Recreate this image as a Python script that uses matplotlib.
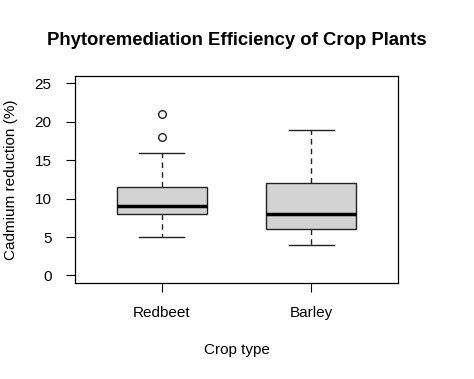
import matplotlib.pyplot as plt

crops = ['Redbeet', 'Barley']
whisker_low = [5, 4]
q1 = [8, 6]
medians = [9, 8]
q3 = [11.5, 12]
whisker_high = [16, 19]
outliers = [[18, 21], []]

plt.rcParams['font.family'] = ['Liberation Sans', 'DejaVu Sans']

stats = []
for i, name in enumerate(crops):
    stats.append({'label': name, 'whislo': whisker_low[i], 'q1': q1[i], 'med': medians[i],
                  'q3': q3[i], 'whishi': whisker_high[i], 'fliers': outliers[i]})

fig = plt.figure(figsize=(4.74, 3.79), dpi=100)
ax = fig.add_axes([0.158, 0.253, 0.682, 0.547])

ax.bxp(stats, positions=[1, 2], widths=0.6, patch_artist=True,
       boxprops=dict(facecolor='#D3D3D3', edgecolor='#222222', linewidth=1),
       medianprops=dict(color='black', linewidth=2.5),
       whiskerprops=dict(color='#222222', linewidth=1, linestyle=(0, (4, 3))),
       capprops=dict(color='#222222', linewidth=1),
       capwidths=0.3,
       flierprops=dict(marker='o', markersize=5.5, markerfacecolor='none',
                       markeredgecolor='#222222', markeredgewidth=1))

ax.set_xlim(0.42, 2.58)
ax.set_ylim(-1, 26)
ax.set_yticks([0, 5, 10, 15, 20, 25])
ax.set_xticks([1, 2])
ax.set_xticklabels(crops)
ax.tick_params(axis='both', direction='out', length=6.3, width=0.8, labelsize=11, pad=10.5)
for s in ax.spines.values():
    s.set_linewidth(0.9)

ax.set_title('Phytoremediation Efficiency of Crop Plants', fontsize=13.3,
             fontweight='bold', pad=22)
ax.set_xlabel('Crop type', fontsize=11, labelpad=16)
ax.set_ylabel('Cadmium reduction (%)', fontsize=11, labelpad=12)

fig.savefig('out.png', dpi=100)
